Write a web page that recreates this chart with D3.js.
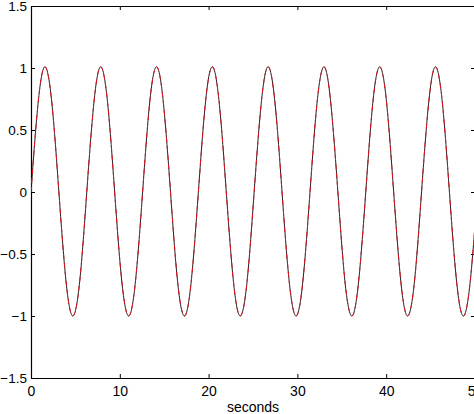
<!DOCTYPE html>
<html>
<head>
<meta charset="utf-8">
<script src="https://cdn.jsdelivr.net/npm/d3@7"></script>
<style>
  body { margin: 0; background: #fff; }
  svg { display: block; }
  text { font-family: "Liberation Sans", Arial, sans-serif; font-size: 14px; fill: #000; }
  .axis path, .axis line { stroke: #000; }
</style>
</head>
<body>
<div id="chart"></div>
<script>
// samples (every eighth of a cycle)
var time = [0.00, 0.79, 1.57, 2.36, 3.14, 3.93, 4.71, 5.50, 6.28, 7.07, 7.85, 8.64,
  9.42, 10.21, 11.00, 11.78, 12.57, 13.35, 14.14, 14.92, 15.71, 16.49, 17.28, 18.06,
  18.85, 19.63, 20.42, 21.21, 21.99, 22.78, 23.56, 24.35, 25.13, 25.92, 26.70, 27.49,
  28.27, 29.06, 29.85, 30.63, 31.42, 32.20, 32.99, 33.77, 34.56, 35.34, 36.13, 36.91,
  37.70, 38.48, 39.27, 40.06, 40.84, 41.63, 42.41, 43.20, 43.98, 44.77, 45.55, 46.34,
  47.12, 47.91, 48.69, 49.48, 50.27];

var signal = [0, 0.71, 1.01, 0.71, 0, -0.71, -1, -0.71, 0, 0.71, 1.01, 0.71,
  0, -0.71, -1, -0.71, 0, 0.71, 1.01, 0.71, 0, -0.71, -1, -0.71,
  0, 0.71, 1.01, 0.71, 0, -0.71, -1, -0.71, 0, 0.71, 1.01, 0.71,
  0, -0.71, -1, -0.71, 0, 0.71, 1.01, 0.71, 0, -0.71, -1, -0.71,
  0, 0.71, 1.01, 0.71, 0, -0.71, -1, -0.71, 0, 0.71, 1.01, 0.71,
  0, -0.71, -1, -0.71, 0];

var estimate = [0, 0.71, 1.01, 0.71, 0, -0.71, -1, -0.71, 0, 0.71, 1.01, 0.71,
  0, -0.71, -1, -0.71, 0, 0.71, 1.01, 0.71, 0, -0.71, -1, -0.71,
  0, 0.71, 1.01, 0.71, 0, -0.71, -1, -0.71, 0, 0.71, 1.01, 0.71,
  0, -0.71, -1, -0.71, 0, 0.71, 1.01, 0.71, 0, -0.71, -1, -0.71,
  0, 0.71, 1.01, 0.71, 0, -0.71, -1, -0.71, 0, 0.71, 1.01, 0.71,
  0, -0.71, -1, -0.71, 0];

var xTicks = [0, 10, 20, 30, 40, 50];
var yTicks = [-1.5, -1, -0.5, 0, 0.5, 1, 1.5];

var width = 474, height = 414;
var margin = { top: 6, right: -1, bottom: 36, left: 31 };
var w = width - margin.left - margin.right;
var h = height - margin.top - margin.bottom;

var svg = d3.select('#chart')
  .append('svg')
    .attr('width', width)
    .attr('height', height)
  .append('g')
    .attr('transform', 'translate(' + margin.left + ',' + margin.top + ')');

var x = d3.scaleLinear().domain([0, 50]).range([0, w]);
var y = d3.scaleLinear().domain([-1.5, 1.5]).range([h, 0]);

svg.append('clipPath').attr('id', 'clip')
  .append('rect').attr('width', w).attr('height', h);

var fmt = d3.format('~g');

// axes, ticks pointing inward
svg.append('g').attr('class', 'axis')
  .attr('transform', 'translate(0,' + h + ')')
  .call(d3.axisBottom(x).tickValues(xTicks).tickFormat(fmt).tickSizeInner(-4).tickSizeOuter(0).tickPadding(8))
  .call(g => g.selectAll('text').style('font-size', '14px').style('font-family', null));

svg.append('g').attr('class', 'axis')
  .call(d3.axisTop(x).tickValues(xTicks).tickFormat('').tickSizeInner(-4).tickSizeOuter(0));

svg.append('g').attr('class', 'axis')
  .call(d3.axisLeft(y).tickValues(yTicks).tickFormat(fmt).tickSizeInner(-4).tickSizeOuter(0).tickPadding(4))
  .call(g => g.selectAll('text').style('font-size', '13.5px').style('font-family', null));

svg.append('g').attr('class', 'axis')
  .attr('transform', 'translate(' + w + ',0)')
  .call(d3.axisRight(y).tickValues(yTicks).tickFormat('').tickSizeInner(-4).tickSizeOuter(0));

svg.selectAll('.axis .domain').attr('stroke-width', 1.2);

// curves
var line = d3.line()
  .x((d, i) => x(time[i]))
  .y(d => y(d))
  .curve(d3.curveNatural);

svg.append('path')
  .attr('clip-path', 'url(#clip)')
  .attr('d', line(signal))
  .attr('fill', 'none')
  .attr('stroke', '#222')
  .attr('stroke-width', 1);

svg.append('path')
  .attr('clip-path', 'url(#clip)')
  .attr('d', line(estimate))
  .attr('fill', 'none')
  .attr('stroke', '#e8101e')
  .attr('stroke-width', 1)
  .attr('stroke-dasharray', '5,4');

// x label
svg.append('text')
  .attr('x', x(25))
  .attr('y', h + 34)
  .attr('text-anchor', 'middle')
  .text('seconds');
</script>
</body>
</html>
